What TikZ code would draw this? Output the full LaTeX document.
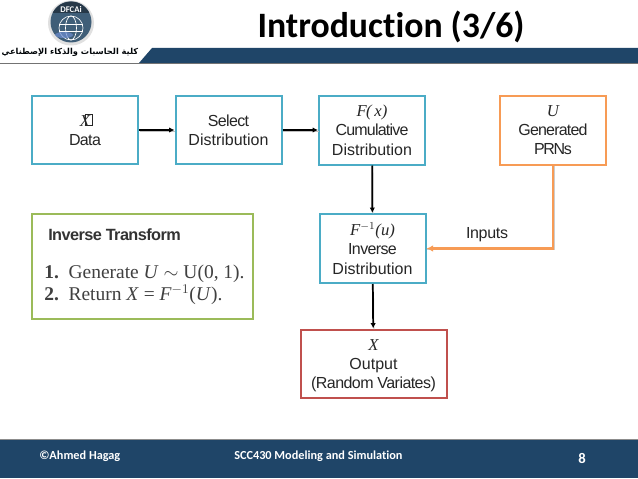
\documentclass[tikz,border=0pt]{standalone}
\usepackage{fontspec}
\setmainfont{Liberation Sans}
\newfontfamily\carl{Carlito}[Ligatures=NoCommon]
\newfontfamily\tms{Liberation Serif}
\newfontfamily\arabicfont[Script=Arabic]{DejaVu Sans}
\TeXXeTstate=1
\usetikzlibrary{arrows.meta}
\definecolor{navy}{HTML}{1F4568}
\definecolor{teal}{HTML}{4BACC6}
\definecolor{orng}{HTML}{F79B55}
\definecolor{grn}{HTML}{9BBB59}
\definecolor{rd}{HTML}{C0504D}
\definecolor{steel}{HTML}{3F5E78}
\newcommand{\tight}[2]{{\addfontfeature{LetterSpace=#1}#2}}
\newcommand{\mth}[1]{{\tms\itshape\fontsize{12.5}{14.5}\selectfont #1}}
\tikzset{
  x=0.75pt,y=-0.75pt,
  boxbase/.style={draw,line width=1.5pt,inner sep=0pt,align=center,font=\fontsize{12}{14.5}\selectfont,text=black!85},
  bluebox/.style={boxbase,draw=teal},
  orangebox/.style={boxbase,draw=orng},
  redbox/.style={boxbase,draw=rd},
  greenbox/.style={boxbase,draw=grn},
  flow/.style={line width=1.3pt,draw=black,-{Latex[length=4pt,width=4pt]},
    preaction={draw=black!25,-,transform canvas={xshift=.6pt,yshift=-.6pt}}},
  inflow/.style={line width=1.6pt,draw=orng,-{Latex[length=5pt,width=5pt]},
    preaction={draw=black!20,-,transform canvas={xshift=.6pt,yshift=-.6pt}}},
  plain/.style={inner sep=0pt,font=\fontsize{12}{14.5}\selectfont,text=black!85},
  foot/.style={inner sep=0pt,text=white,font=\carl\bfseries\fontsize{9.2}{12}\selectfont},
}
\begin{document}
\begin{tikzpicture}
\useasboundingbox (0,0) rectangle (638,478);
\fill[white] (0,0) rectangle (638,478);
% header band
\fill[navy] (152,48) -- (638,48) -- (638,63) -- (139,63) -- cycle;
\draw[black!55,line width=0.6pt] (0,63.5) -- (638,63.5);
% logo
\fill[black!12] (71,23) ellipse (23 and 22.5);
\fill[steel] (71,22) ellipse (20.5 and 20.5);
\begin{scope}
\clip (71,22) ellipse (20.5 and 20.5);
\fill[steel!60!black] (50,0) rectangle (92,13);
\draw[white!85,line width=0.5pt] (71,28) circle (12);
\draw[white!85,line width=0.5pt] (71,28) ellipse (5.5 and 12);
\draw[white!85,line width=0.5pt] (59,24) -- (83,24) (59,31) -- (83,31);
\fill[cyan!40!blue!60,opacity=.7] (64,35) ellipse (9 and 3);
\end{scope}
\node[inner sep=0pt,text=white,font=\carl\bfseries\fontsize{6.5}{7}\selectfont] (logotext) at (71,9.5) {DFCAi};
\node[inner sep=0pt,text=black!90!navy,font=\arabicfont\bfseries\fontsize{6.2}{8}\selectfont] (college) at (70,52) {\beginR كلية الحاسبات والذكاء الإصطناعي\endR};
% title
\node[inner sep=0pt,text=black,font=\carl\bfseries\fontsize{26.8}{30}\selectfont] (title) at (391,27) {Introduction (3/6)};
% boxes
\node[bluebox,minimum width=106pt*0.75,minimum height=68pt*0.75] (data) at (85,130) {\mth{X}\rlap{\kern-0.3em\raisebox{0.05em}{\tikz[baseline]\draw[line width=0.4pt,x=1pt,y=1pt] (0,0) rectangle (5,8);}}\\\tight{-4}{Data}};
\node[bluebox,minimum width=106pt*0.75,minimum height=68pt*0.75] (select) at (228.5,130) {\tight{-4}{Select}\\Distribution};
\node[bluebox,minimum width=106pt*0.75,minimum height=69pt*0.75] (cdf) at (372,130) {\mth{F\kern-0.05em(\,x)}\\\tight{-5}{Cumulative}\\Distribution};
\node[orangebox,minimum width=106pt*0.75,minimum height=69pt*0.75] (prn) at (553,130) {\mth{U}\\\tight{-5}{Generated}\\\tight{-8}{PRNs}};
\node[bluebox,minimum width=106pt*0.75,minimum height=69pt*0.75] (inv) at (372.5,248.5) {\mth{F}$^{-1}$\mth{(u)}\\\tight{-4}{Inverse}\\Distribution};
\node[redbox,minimum width=146pt*0.75,minimum height=68pt*0.75] (out) at (373.5,363.5) {\rule{0pt}{11.5pt}\mth{X}\\Output\\\tight{-3.5}{(Random Variates)}};
\node[greenbox,minimum width=221pt*0.75,minimum height=105pt*0.75] (algo) at (142.5,266.5) {};
% texts in the green box
\node[plain,anchor=west,font=\fontsize{12.2}{14}\selectfont\bfseries,text=black!80] (algotitle) at (48,235) {\tight{-3.5}{Inverse Transform}};
\node[inner sep=0pt,anchor=base west,text=black!75,font=\tms\fontsize{14.6}{16}\selectfont] (line1) at (44,278) {\textbf{1.}\, Generate \textit{U} $\sim$ U(0, 1).};
\node[inner sep=0pt,anchor=base west,text=black!75,font=\tms\fontsize{14.6}{16}\selectfont] (line2) at (44,300) {\textbf{2.}\, Return \textit{X} = \textit{F}$^{-1}$(\textit{U}).};
\node[plain] (inputs) at (487,235) {\tight{-2}{Inputs}};
% connectors
\draw[flow] (data) -- (select);
\draw[flow] (select) -- (cdf);
\draw[flow] (cdf) -- (inv);
\draw[flow] (inv) -- (out);
\draw[inflow] (prn.south) |- (inv.east);
% footer
\fill[navy] (0,439) rectangle (638,478);
\draw[black!45,line width=0.6pt] (0,439) -- (638,439);
\node[foot,anchor=west] (author) at (39,456) {©Ahmed Hagag};
\node[foot,anchor=west] (course) at (234,456) {SCC430 Modeling and Simulation};
\node[foot,font=\carl\bfseries\fontsize{11}{12}\selectfont] (page) at (582,458.5) {8};
\end{tikzpicture}
\end{document}
